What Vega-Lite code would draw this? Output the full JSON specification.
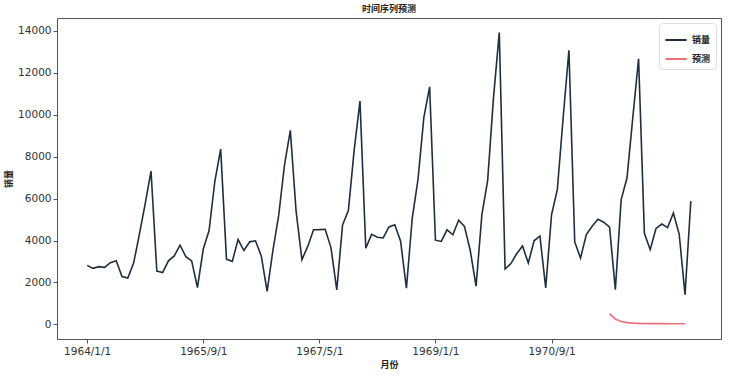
{
  "$schema": "https://vega.github.io/schema/vega-lite/v6.json",
  "width": 664,
  "height": 321,
  "autosize": {"type": "none"},
  "padding": {"left": 57, "top": 18, "right": 11, "bottom": 39},
  "background": "white",
  "title": {"text": "时间序列预测", "font": "Noto Sans CJK SC", "fontSize": 9, "fontWeight": "bold", "color": "#222", "offset": 4},
  "config": {
    "view": {"stroke": "#555", "strokeWidth": 1},
    "axis": {"labelFont": "DejaVu Sans", "labelFontSize": 10.5, "labelColor": "#333", "tickColor": "#555", "domain": false, "grid": false, "tickSize": 4, "titleFont": "Noto Sans CJK SC", "titleFontSize": 9, "titleFontWeight": "bold", "titleColor": "#222"}
  },
  "data": {"values": [
    {"i":0,"s":"销量","v":2815},{"i":1,"s":"销量","v":2672},{"i":2,"s":"销量","v":2755},{"i":3,"s":"销量","v":2721},{"i":4,"s":"销量","v":2946},{"i":5,"s":"销量","v":3036},{"i":6,"s":"销量","v":2282},{"i":7,"s":"销量","v":2212},{"i":8,"s":"销量","v":2922},{"i":9,"s":"销量","v":4301},{"i":10,"s":"销量","v":5764},{"i":11,"s":"销量","v":7312},
    {"i":12,"s":"销量","v":2541},{"i":13,"s":"销量","v":2475},{"i":14,"s":"销量","v":3031},{"i":15,"s":"销量","v":3266},{"i":16,"s":"销量","v":3776},{"i":17,"s":"销量","v":3230},{"i":18,"s":"销量","v":3028},{"i":19,"s":"销量","v":1759},{"i":20,"s":"销量","v":3595},{"i":21,"s":"销量","v":4474},{"i":22,"s":"销量","v":6838},{"i":23,"s":"销量","v":8357},
    {"i":24,"s":"销量","v":3113},{"i":25,"s":"销量","v":3006},{"i":26,"s":"销量","v":4047},{"i":27,"s":"销量","v":3523},{"i":28,"s":"销量","v":3937},{"i":29,"s":"销量","v":3986},{"i":30,"s":"销量","v":3260},{"i":31,"s":"销量","v":1573},{"i":32,"s":"销量","v":3528},{"i":33,"s":"销量","v":5211},{"i":34,"s":"销量","v":7614},{"i":35,"s":"销量","v":9254},
    {"i":36,"s":"销量","v":5375},{"i":37,"s":"销量","v":3088},{"i":38,"s":"销量","v":3718},{"i":39,"s":"销量","v":4514},{"i":40,"s":"销量","v":4520},{"i":41,"s":"销量","v":4539},{"i":42,"s":"销量","v":3663},{"i":43,"s":"销量","v":1643},{"i":44,"s":"销量","v":4739},{"i":45,"s":"销量","v":5428},{"i":46,"s":"销量","v":8314},{"i":47,"s":"销量","v":10651},
    {"i":48,"s":"销量","v":3633},{"i":49,"s":"销量","v":4292},{"i":50,"s":"销量","v":4154},{"i":51,"s":"销量","v":4121},{"i":52,"s":"销量","v":4647},{"i":53,"s":"销量","v":4753},{"i":54,"s":"销量","v":3965},{"i":55,"s":"销量","v":1723},{"i":56,"s":"销量","v":5048},{"i":57,"s":"销量","v":6922},{"i":58,"s":"销量","v":9858},{"i":59,"s":"销量","v":11331},
    {"i":60,"s":"销量","v":4016},{"i":61,"s":"销量","v":3957},{"i":62,"s":"销量","v":4510},{"i":63,"s":"销量","v":4276},{"i":64,"s":"销量","v":4968},{"i":65,"s":"销量","v":4677},{"i":66,"s":"销量","v":3523},{"i":67,"s":"销量","v":1821},{"i":68,"s":"销量","v":5222},{"i":69,"s":"销量","v":6872},{"i":70,"s":"销量","v":10803},{"i":71,"s":"销量","v":13916},
    {"i":72,"s":"销量","v":2639},{"i":73,"s":"销量","v":2899},{"i":74,"s":"销量","v":3370},{"i":75,"s":"销量","v":3740},{"i":76,"s":"销量","v":2927},{"i":77,"s":"销量","v":3986},{"i":78,"s":"销量","v":4217},{"i":79,"s":"销量","v":1738},{"i":80,"s":"销量","v":5221},{"i":81,"s":"销量","v":6424},{"i":82,"s":"销量","v":9842},{"i":83,"s":"销量","v":13076},
    {"i":84,"s":"销量","v":3934},{"i":85,"s":"销量","v":3162},{"i":86,"s":"销量","v":4286},{"i":87,"s":"销量","v":4676},{"i":88,"s":"销量","v":5010},{"i":89,"s":"销量","v":4874},{"i":90,"s":"销量","v":4633},{"i":91,"s":"销量","v":1659},{"i":92,"s":"销量","v":5951},{"i":93,"s":"销量","v":6981},{"i":94,"s":"销量","v":9851},{"i":95,"s":"销量","v":12670},
    {"i":96,"s":"销量","v":4348},{"i":97,"s":"销量","v":3564},{"i":98,"s":"销量","v":4577},{"i":99,"s":"销量","v":4788},{"i":100,"s":"销量","v":4618},{"i":101,"s":"销量","v":5312},{"i":102,"s":"销量","v":4298},{"i":103,"s":"销量","v":1413},{"i":104,"s":"销量","v":5877},
    {"i":90,"s":"预测","v":510},{"i":91,"s":"预测","v":260},{"i":92,"s":"预测","v":140},{"i":93,"s":"预测","v":85},{"i":94,"s":"预测","v":60},{"i":95,"s":"预测","v":48},{"i":96,"s":"预测","v":42},{"i":97,"s":"预测","v":38},{"i":98,"s":"预测","v":36},{"i":99,"s":"预测","v":35},{"i":100,"s":"预测","v":34},{"i":101,"s":"预测","v":33},{"i":102,"s":"预测","v":33},{"i":103,"s":"预测","v":32}
  ]},
  "mark": {"type": "line", "strokeWidth": 1.6, "clip": true},
  "encoding": {
    "x": {"field": "i", "type": "quantitative", "title": "月份",
      "scale": {"domain": [-5.2, 109.2], "nice": false, "zero": false},
      "axis": {"values": [0, 20, 40, 60, 80], "labelExpr": "(1964 + floor(datum.value / 12)) + '/' + (datum.value % 12 + 1) + '/1'", "titlePadding": 4, "labelPadding": 3}},
    "y": {"field": "v", "type": "quantitative", "title": "销量",
      "scale": {"domain": [-696, 14612], "nice": false, "zero": false},
      "axis": {"values": [0, 2000, 4000, 6000, 8000, 10000, 12000, 14000], "format": "d", "labelPadding": 2, "titlePadding": 4}},
    "color": {"field": "s", "type": "nominal", "title": null,
      "scale": {"domain": ["销量", "预测"], "range": ["#1f2f3f", "#ee6e7e"]},
      "legend": {"orient": "top-right", "offset": 5, "symbolType": "stroke", "symbolSize": 450, "symbolStrokeWidth": 2, "labelFont": "Noto Sans CJK SC", "labelFontSize": 9, "labelFontWeight": "bold", "labelColor": "#222", "fillColor": "white", "strokeColor": "#ddd", "cornerRadius": 3, "padding": 5, "rowPadding": 2}}
  }
}
